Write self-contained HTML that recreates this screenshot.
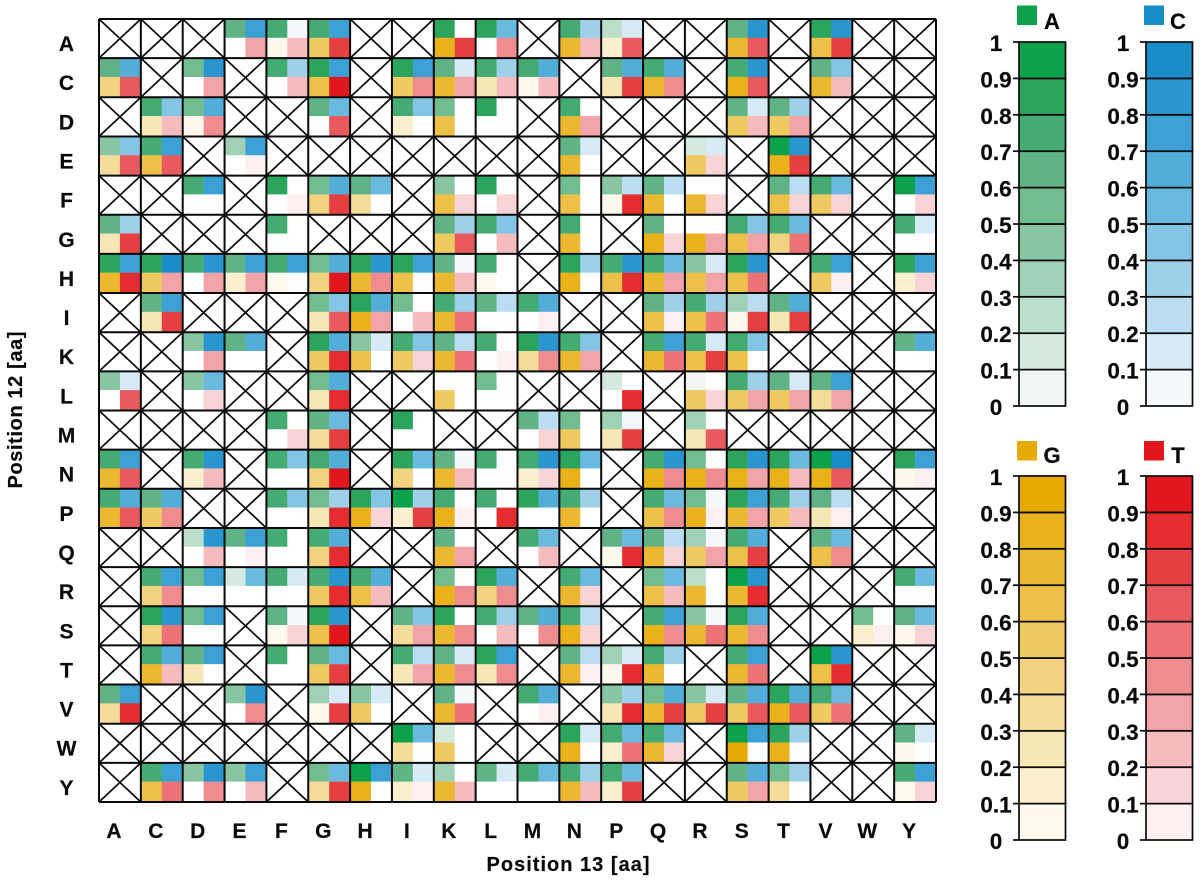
<!DOCTYPE html>
<html lang="en">
<head>
<meta charset="utf-8">
<title>Position 12 vs Position 13 nucleotide heatmap</title>
<style>
  html, body { margin: 0; padding: 0; background: #fff; }
  svg { display: block; }
  text { font-family: "Liberation Sans", sans-serif; font-weight: bold; fill: #0a0a0a; stroke: #0a0a0a; stroke-width: 0.2px; }
</style>
</head>
<body>
<svg id="chart" xmlns="http://www.w3.org/2000/svg" width="1200" height="884" viewBox="0 0 1200 884">
  <text x="568" y="871" font-size="20" text-anchor="middle" textLength="163">Position 13 [aa]</text>
  <text x="0" y="0" font-size="20" text-anchor="middle" textLength="157" transform="translate(22,410) rotate(-90)">Position 12 [aa]</text>
  <g id="cells"></g>
  <g id="labels"></g>
  <g id="legends"></g>
</svg>
<script>
const _ = null;
const columnLabels = ["A","C","D","E","F","G","H","I","K","L","M","N","P","Q","R","S","T","V","W","Y"];
const rowLabels = ["A","C","D","E","F","G","H","I","K","L","M","N","P","Q","R","S","T","V","W","Y"];
const bases = ["A","C","G","T"];
const legendTicks = ["0","0.1","0.2","0.3","0.4","0.5","0.6","0.7","0.8","0.9","1"];

// Each cell: [A, C, G, T] probability, or _ for a crossed-out (absent) cell.
const rowA = [_,_,_,[.7,.8,0,.4],[.8,.1,.1,.3],[.8,.8,.6,.8],_,_,[.9,0,.9,.8],[.9,.6,0,.5],_,[.8,.4,.8,.3],[.3,.2,.2,.7],_,_,[.7,.9,.8,.7],_,[.9,.9,.7,.8],_,_];
const rowC = [[.7,.7,.5,.7],_,[.6,.9,0,.4],_,[.8,.4,0,.3],[.9,.8,.7,1],_,[.9,.8,.6,.5],[.7,.2,.8,.4],[.8,.4,.3,.3],[.8,.7,.1,.3],_,[.7,.7,.3,.8],[.8,.7,.8,.5],_,[.8,.9,.9,.7],_,[.7,.5,.8,.3],_,_];
const rowD = [_,[.8,.5,.3,.3],[.6,.7,.1,.5],_,_,[.7,.6,0,.7],_,[.8,.5,.2,0],[.6,0,.7,0],[.9,0,0,0],_,[.8,0,.8,.4],_,_,_,[.7,.2,.6,.3],[.7,.4,.6,.4],_,_,_];
const rowE = [[.5,.5,.4,.7],[.8,.8,.7,.7],_,[.4,.8,0,.1],_,_,_,_,_,_,_,[.7,.2,.8,0],_,_,[.2,.2,.6,.2],_,[1,.9,.9,.8],_,_,_];
const rowF = [_,_,[.8,.8,0,0],_,[.9,0,0,.1],[.6,.7,.5,.8],[.7,.6,.4,0],_,[.5,0,.7,.2],[.9,0,0,.2],_,[.6,0,.7,0],[.5,.3,.1,.9],[.7,.3,.8,0],[0,0,.8,.2],_,[.7,.3,.7,.2],[.8,.6,.6,.2],_,[1,.8,0,.2]];
const rowG = [[.7,.4,.3,.8],_,_,_,[.8,0,0,0],_,_,_,[.7,.4,.6,.7],[.8,.5,0,.3],_,[.8,0,.8,0],_,[.7,0,.9,.2],[0,0,.9,.4],[.8,.5,.7,.4],[.8,.6,.5,.6],_,_,[.8,.2,0,0]];
const rowH = [[.9,.8,.8,.9],[.9,1,.6,.4],[.8,.9,0,.4],[.7,.8,.2,.4],[.8,.8,.1,0],[.6,.7,.5,1],[.9,.9,.8,.5],[.9,.8,.7,0],[.7,.1,.8,.3],[.8,0,.1,0],_,[.9,.4,.9,0],[.8,.9,.7,.9],[.8,.6,.8,.4],[.5,.2,.7,.4],[.9,.9,.7,.6],_,[.8,.8,.6,.1],_,[.9,.8,.2,.2]];
const rowI = [_,[.7,.8,.3,.8],_,_,_,[.6,.5,.3,.7],[.9,.7,.9,.4],[.6,0,0,.3],[.8,.4,.8,.6],[.7,.3,0,0],[.8,.7,0,.1],_,_,[.7,.4,.7,.1],[.8,.4,.7,.6],[.4,.3,.1,.8],[.7,.7,.3,.8],_,_,_];
const rowK = [_,_,[.5,.9,0,.4],[.7,.7,0,0],_,[.9,.7,.6,.9],[.5,.2,.7,0],[.8,.5,.6,.2],[.7,.3,.8,.6],[.8,0,0,.1],[.9,.9,.4,.5],[.8,.5,.8,.4],_,[.8,.8,.8,.6],[.8,.2,.7,.8],[.8,.5,.7,0],_,_,_,[.7,.7,0,0]];
const rowL = [[.5,.2,0,.7],_,[.5,.6,0,.2],_,_,[.6,.7,.3,.9],_,_,[0,0,.6,0],[.6,0,0,0],_,_,[.2,0,0,.9],_,[.1,0,.6,.2],[.8,.4,.6,.4],[.7,.2,.6,.4],[.7,.8,.4,.4],_,_];
const rowM = [_,_,_,_,[.8,0,0,.2],[.7,.6,.4,.8],_,[.9,0,0,0],_,_,[.7,.3,0,.2],[.6,0,.6,0],[.4,.1,.3,.8],_,[.4,0,.3,.7],_,_,_,_,_];
const rowN = [[.8,.8,.8,.7],_,[.8,.9,.2,.3],_,[.8,.5,0,0],[.8,.7,.5,1],_,[.9,.6,.5,0],[.7,.1,.8,.3],[.8,0,0,0],[.8,.9,.2,.2],[.9,.6,.9,0],_,[.8,.9,.9,.5],[.6,0,.9,.5],[.9,.9,.9,.4],[.9,.6,.9,.3],[1,1,.9,.7],_,[.9,.8,.1,.1]];
const rowP = [[.8,.7,.8,.7],[.7,.7,.6,.5],_,_,[.8,.5,0,0],[.6,.4,.3,.9],[.9,.5,.9,.2],[1,.4,.2,.8],[.8,0,.9,.1],[.8,0,0,.9],[.9,.7,0,0],[.8,.4,.8,0],_,[.8,.6,.7,.5],[.6,.1,.9,.1],[.9,.8,.8,.4],[.8,.4,.6,.3],[.7,.3,.3,.1],_,_];
const rowQ = [_,_,[.3,.9,0,.3],[.7,.8,0,.1],[.8,0,0,0],[.8,.7,.5,.9],_,_,[.7,0,.8,.4],_,[.8,.6,0,.3],_,[.7,.6,.1,.9],[.7,.3,.8,.2],[.4,.1,.6,.4],[.8,.7,.7,.8],_,[.7,.6,.7,.5],_,_];
const rowR = [_,[.8,.8,.5,.5],[.6,.8,0,0],[.2,.6,0,0],[.8,.2,0,0],[.8,.9,.6,.9],[.8,.7,.7,.3],_,[.6,0,.9,.5],[.9,.7,.5,.5],_,[.8,.6,.8,.2],_,[.6,.6,.7,.3],[.3,0,.8,0],[1,.9,.8,.9],_,_,_,[.8,.6,0,0]];
const rowS = [_,[.9,.9,.5,.6],[.6,.8,0,0],_,[.7,.1,.1,.2],[.9,.9,.7,1],_,[.7,.5,.4,.4],[.9,0,.8,.5],[.8,.4,0,.3],[.7,.7,0,.5],[.8,.3,.9,.2],_,[.8,.8,.9,.5],[.5,.1,.8,.6],[.9,.7,.8,.5],_,_,[.6,0,.2,.1],[.7,.6,.1,.2]];
const rowT = [_,[.8,.7,.8,.3],[.7,.8,.3,0],_,[.8,0,0,0],[.7,.6,.6,.8],_,[.8,.3,.3,.4],[.7,.2,.8,.5],[.9,.8,.3,.5],_,[.7,.3,.8,.1],[.4,.2,.1,.9],[.8,.4,.8,0],_,[.8,.8,.8,.6],_,[1,.9,.7,.9],_,_];
const rowV = [[.7,.8,.4,.9],_,_,[.5,.9,0,.5],_,[.4,.2,.1,.8],[.5,.2,.6,0],_,[.7,.1,.8,.6],_,[.8,.7,0,.1],_,[.5,.4,.3,.9],[.6,.7,.8,.8],[.5,.2,.6,.8],[.7,.7,.6,.7],[.9,.7,.9,.7],[.8,.6,.6,.6],_,_];
const rowW = [_,_,_,_,_,_,_,[1,.6,.4,0],[.2,0,.6,0],_,_,[.9,.2,.9,0],[.8,.6,.2,.6],[.8,.6,.8,.2],_,[1,.8,1,0],[.9,.4,.9,0],_,_,[.7,.2,.1,0]];
const rowY = [_,[.8,.8,.7,.6],[.5,.9,0,.5],[.5,.8,0,.3],_,[.6,.6,.4,.8],[1,.8,.9,0],[.7,.2,.2,.1],[.4,0,.8,.3],[.7,.2,0,0],[.8,.6,0,0],[.8,.4,.8,.3],[.8,.6,.2,.8],_,_,[.7,.7,.6,.4],[.6,.4,.4,0],_,_,[.8,.8,.1,.2]];
const matrixRows = [rowA,rowC,rowD,rowE,rowF,rowG,rowH,rowI,rowK,rowL,rowM,rowN,rowP,rowQ,rowR,rowS,rowT,rowV,rowW,rowY];

// Colour ramps, lightest band (0-0.1) to darkest band (0.9-1).
const rampA = ["#f0f7f3","#d5eadf","#bbdfcb","#a0d0b5","#88c6a3","#72bd90","#5fb386","#44ac72","#2ba55e","#0ca24c"];
const rampC = ["#f3f9fd","#d6ebf6","#badef0","#9fd0ea","#84c5e5","#6ab9de","#52aed9","#3ba1d4","#2a96cf","#1a8cc8"];
const rampG = ["#fef9ec","#faf0cf","#f7e7b6","#f4dd99","#f2d37e","#efca60","#edc048","#ebb82f","#e9b21a","#e6ab00"];
const rampT = ["#fcf0f1","#f9d4d6","#f5bbbe","#f2a3a7","#ef8c90","#ec7477","#e85a5e","#e63f42","#e52c2f","#e3161e"];
const ramps = [rampA, rampC, rampG, rampT];

const SVG_NS = "http://www.w3.org/2000/svg";
const gridLeft = 99, gridTop = 19, gridRight = 936, gridBottom = 802;
const cellW = (gridRight - gridLeft) / columnLabels.length;
const cellH = (gridBottom - gridTop) / rowLabels.length;
const xScale = function (i) { return gridLeft + i * cellW; };
const yScale = function (j) { return gridTop + j * cellH; };
const colorFor = function (baseIndex, v) {
  if (v <= 0) return "#ffffff";
  const band = Math.min(9, Math.max(0, Math.ceil(v * 10 - 1e-6) - 1));
  return ramps[baseIndex][band];
};
const make = function (tag, parent, attrs) {
  const el = document.createElementNS(SVG_NS, tag);
  Object.keys(attrs).forEach(function (k) { el.setAttribute(k, attrs[k]); });
  parent.appendChild(el);
  return el;
};

const cellsGroup = document.getElementById("cells");
const labelsGroup = document.getElementById("labels");
const legendsGroup = document.getElementById("legends");

// Heatmap fills and crosses
matrixRows.forEach(function (row, j) {
  row.forEach(function (cell, i) {
    const x = xScale(i), y = yScale(j);
    if (cell === null) {
      const cross = make("path", cellsGroup, {
        d: "M" + x + " " + y + "L" + (x + cellW) + " " + (y + cellH) + "M" + (x + cellW) + " " + y + "L" + x + " " + (y + cellH),
        stroke: "#0a0a0a", "stroke-width": 1.7, fill: "none"
      });
      
      
      return;
    }
    const splitY = cellH * 0.48;
    cell.forEach(function (v, b) {
      const sx = x + (b % 2) * cellW / 2;
      const sy = y + (b < 2 ? 0 : splitY);
      const sh = b < 2 ? splitY : cellH - splitY;
      const rect = make("rect", cellsGroup, {
        x: sx, y: sy, width: cellW / 2 + 0.2, height: sh + 0.2, fill: colorFor(b, v)
      });
      
      
    });
  });
});

// Grid lines
for (let i = 0; i <= columnLabels.length; i++) {
  const vLine = make("line", cellsGroup, {
    x1: xScale(i), x2: xScale(i), y1: gridTop, y2: gridBottom, stroke: "#0a0a0a", "stroke-width": 2
  });
  
  
}
for (let j = 0; j <= rowLabels.length; j++) {
  const hLine = make("line", cellsGroup, {
    x1: gridLeft, x2: gridRight, y1: yScale(j), y2: yScale(j), stroke: "#0a0a0a", "stroke-width": 2
  });
  
  
}

// Axis tick labels
columnLabels.forEach(function (label, i) {
  const t = make("text", labelsGroup, { x: xScale(i) + 15, y: 838, "font-size": 21, "text-anchor": "middle" });
  t.textContent = label;
  
  
});
rowLabels.forEach(function (label, j) {
  const t = make("text", labelsGroup, { x: 66.5, y: yScale(j) + 32, "font-size": 21, "text-anchor": "middle" });
  t.textContent = label;
  
  
});

// Legends
const legendBoxes = [
  { base: 0, left: 1019, top: 42, bottom: 406, swatchX: 1017, swatchY: 5.5, letterX: 1052, letterY: 29 },
  { base: 1, left: 1146, top: 42, bottom: 406, swatchX: 1144, swatchY: 5.5, letterX: 1178, letterY: 29 },
  { base: 2, left: 1019, top: 476, bottom: 840, swatchX: 1017, swatchY: 441, letterX: 1052, letterY: 463 },
  { base: 3, left: 1146, top: 476, bottom: 840, swatchX: 1144, swatchY: 441, letterX: 1178, letterY: 463 }
];
const legendBarW = 46.5;
legendBoxes.forEach(function (box) {
  const ramp = ramps[box.base];
  const yOf = function (v) { return box.bottom - v * (box.bottom - box.top); };

  const swatch = make("rect", legendsGroup, { x: box.swatchX, y: box.swatchY, width: 20, height: 19.5, fill: ramp[9] });
  
  

  const letter = make("text", legendsGroup, { x: box.letterX, y: box.letterY, "font-size": 22, "text-anchor": "middle" });
  letter.textContent = bases[box.base];
  
  

  ramp.forEach(function (color, k) {
    const band = make("rect", legendsGroup, {
      x: box.left, y: yOf((k + 1) / 10), width: legendBarW, height: yOf(k / 10) - yOf((k + 1) / 10),
      fill: color, stroke: "#0a0a0a", "stroke-width": 1.7
    });
    
    
  });

  legendTicks.forEach(function (label) {
    const v = parseFloat(label);
    const y = yOf(v);
    const tick = make("line", legendsGroup, { x1: box.left - 6, x2: box.left, y1: y, y2: y, stroke: "#0a0a0a", "stroke-width": 1.7 });
    
    
    const t = make("text", legendsGroup, { x: box.left - 23, y: y + 9, "font-size": 22.5, "text-anchor": "middle" });
    t.textContent = label;
    
    
  });
});
</script>
</body>
</html>
